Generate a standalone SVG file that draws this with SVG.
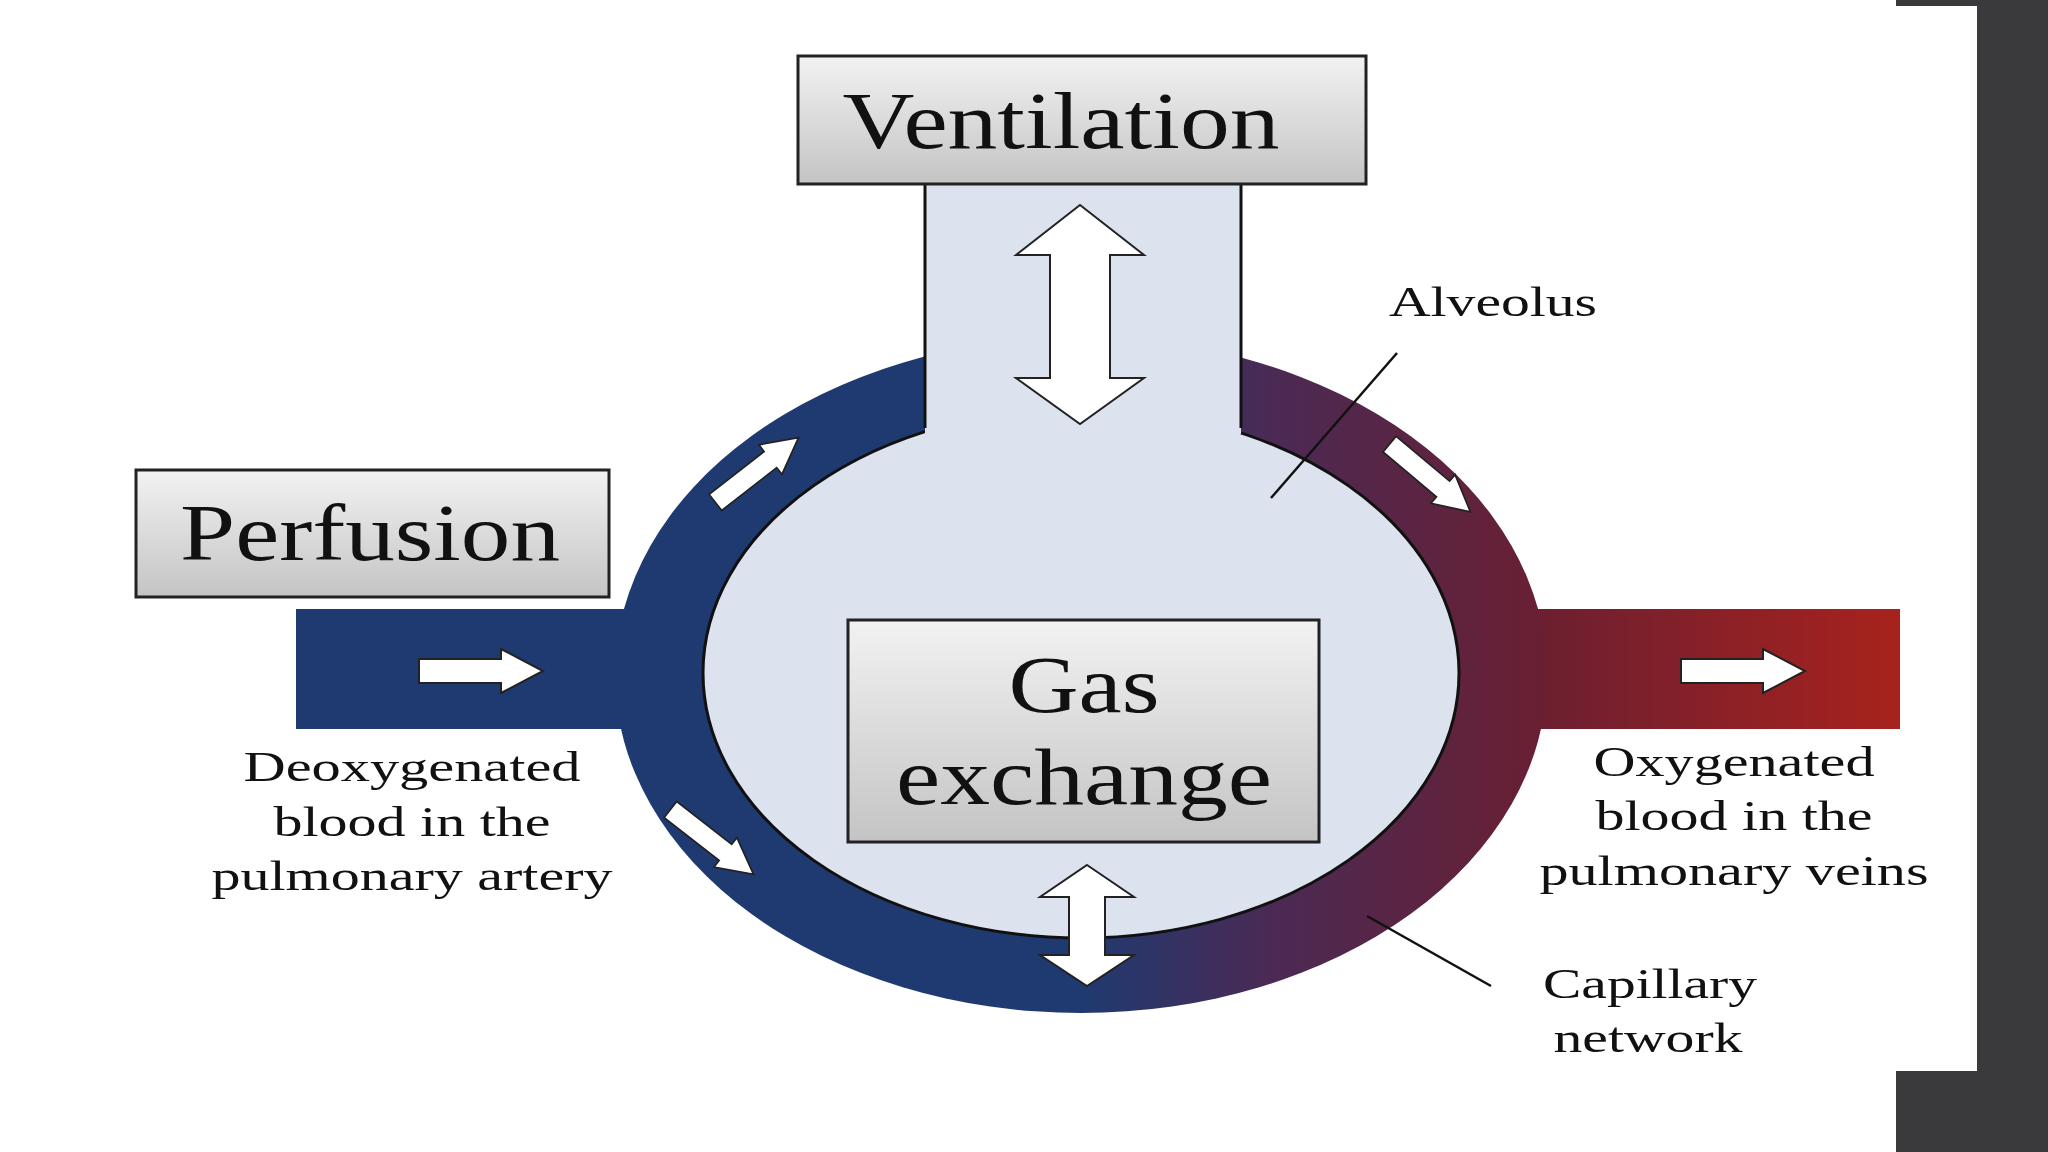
<svg xmlns="http://www.w3.org/2000/svg" width="2048" height="1152" viewBox="0 0 2048 1152">
<defs>
<linearGradient id="ring" x1="0" y1="0" x2="1" y2="0"><stop offset="0" stop-color="#1f3a70"/><stop offset="0.5" stop-color="#1f3a70"/><stop offset="0.7" stop-color="#4a2a55"/><stop offset="1" stop-color="#6a1f32"/></linearGradient>
<linearGradient id="pipeR" x1="0" y1="0" x2="1" y2="0"><stop offset="0" stop-color="#6a1f32"/><stop offset="1" stop-color="#a8221c"/></linearGradient>
<linearGradient id="box" x1="0" y1="0" x2="0" y2="1"><stop offset="0" stop-color="#f2f2f2"/><stop offset="1" stop-color="#c4c4c4"/></linearGradient>
<polygon id="sa" points="-62,-12 20,-12 20,-22 62,0 20,22 20,12 -62,12"/>
</defs>
<style>
.box{fill:url(#box);stroke:#222;stroke-width:3}
.t{font-family:"Liberation Serif",serif;fill:#111;text-anchor:middle}
.ar{fill:#fff;stroke:#222;stroke-width:2}
.ln{stroke:#111;stroke-width:2.5}
</style>
<rect width="2048" height="1152" fill="#fff"/>
<rect x="1977" y="0" width="71" height="1152" fill="#3a3a3c"/>
<rect x="1896" y="1071" width="152" height="81" fill="#3a3a3c"/>
<rect x="1896" y="0" width="81" height="6" fill="#3a3a3c"/>
<g id="vessels">
<rect x="296" y="609" width="340" height="120" fill="#1f3a70"/>
<rect x="1530" y="609" width="370" height="120" fill="url(#pipeR)"/>
<ellipse cx="1081" cy="675" rx="466" ry="338" fill="url(#ring)"/>
<ellipse cx="1081" cy="673" rx="378" ry="265" fill="#dde3ee" stroke="#111" stroke-width="3"/>
<rect x="925" y="184" width="316" height="250" fill="#dde3ee"/>
<line x1="925" y1="184" x2="925" y2="428" stroke="#111" stroke-width="3"/>
<line x1="1241" y1="184" x2="1241" y2="428" stroke="#111" stroke-width="3"/>
</g>
<g id="arrows">
<polygon class="ar" points="1080,205 1144,255 1110,255 1110,378 1144,378 1080,424 1016,378 1050,378 1050,255 1016,255"/>
<polygon class="ar" points="1087,865 1134,897 1105,897 1105,955 1134,955 1087,986 1040,955 1069,955 1069,897 1040,897"/>
<use href="#sa" class="ar" transform="translate(481,671)"/>
<use href="#sa" class="ar" transform="translate(1743,671)"/>
<use href="#sa" class="ar" transform="translate(757,470) rotate(-38) scale(0.85)"/>
<use href="#sa" class="ar" transform="translate(712,842) rotate(38) scale(0.85)"/>
<use href="#sa" class="ar" transform="translate(1430,478) rotate(40) scale(0.85)"/>
</g>
<g id="ventilation"><rect class="box" x="798" y="56" width="568" height="128"/><text class="t" x="1061" y="148" font-size="80" textLength="437" lengthAdjust="spacingAndGlyphs">Ventilation</text></g>
<g id="perfusion"><rect class="box" x="136" y="470" width="473" height="127"/><text class="t" x="370" y="560" font-size="80" textLength="380" lengthAdjust="spacingAndGlyphs">Perfusion</text></g>
<g id="gas"><rect class="box" x="848" y="620" width="471" height="222"/><text class="t" x="1084" y="712" font-size="80" textLength="151" lengthAdjust="spacingAndGlyphs">Gas</text><text class="t" x="1084" y="804" font-size="80" textLength="376" lengthAdjust="spacingAndGlyphs">exchange</text></g>
<g id="labels">
<text class="t" x="1493" y="316" font-size="42" textLength="208" lengthAdjust="spacingAndGlyphs">Alveolus</text>
<line class="ln" x1="1397" y1="353" x2="1271" y2="498"/>
<text class="t" x="412" y="781" font-size="42" textLength="337" lengthAdjust="spacingAndGlyphs">Deoxygenated</text>
<text class="t" x="412" y="836" font-size="42" textLength="277" lengthAdjust="spacingAndGlyphs">blood in the</text>
<text class="t" x="412" y="890" font-size="42" textLength="401" lengthAdjust="spacingAndGlyphs">pulmonary artery</text>
<text class="t" x="1734" y="776" font-size="42" textLength="281" lengthAdjust="spacingAndGlyphs">Oxygenated</text>
<text class="t" x="1734" y="830" font-size="42" textLength="277" lengthAdjust="spacingAndGlyphs">blood in the</text>
<text class="t" x="1734" y="885" font-size="42" textLength="389" lengthAdjust="spacingAndGlyphs">pulmonary veins</text>
<line class="ln" x1="1367" y1="916" x2="1491" y2="986"/>
<text class="t" x="1650" y="998" font-size="42" textLength="214" lengthAdjust="spacingAndGlyphs">Capillary</text>
<text class="t" x="1648" y="1052" font-size="42" textLength="189" lengthAdjust="spacingAndGlyphs">network</text>
</g>
</svg>
